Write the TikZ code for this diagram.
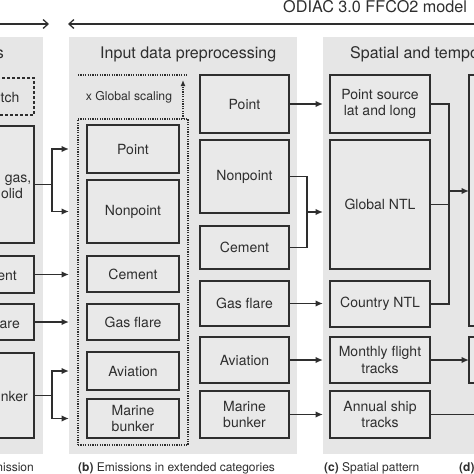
\documentclass[tikz,border=0pt]{standalone}
\usepackage{fontspec}
\setmainfont{TeX Gyre Heros}
\usepackage{xcolor}
\usepackage{tikz}
\usetikzlibrary{arrows.meta, positioning, calc}
\definecolor{panelgray}{HTML}{E6E6E6}
\definecolor{boxgray}{HTML}{E9E9E9}
\definecolor{ink}{HTML}{2E2E2E}
\tikzset{
    panel/.style={
        rectangle,
        fill=panelgray,
        draw=none,
        inner sep=0pt,
        outer sep=0pt
    },
    catbox/.style={
        rectangle,
        draw=ink,
        line width=1.9pt,
        fill=boxgray,
        align=center,
        inner sep=0pt,
        outer sep=0pt,
        text=ink,
        font=\fontsize{14}{16.5}\selectfont
    },
    dashbox/.style={
        catbox,
        line width=1.5pt,
        dash pattern=on 3pt off 2pt,
        fill=none
    },
    dotbox/.style={
        rectangle,
        draw=ink,
        line width=1.3pt,
        dash pattern=on 1.2pt off 1.2pt,
        inner sep=0pt,
        outer sep=0pt
    },
    wire/.style={
        draw=ink,
        line width=1.5pt
    },
    arr/.style={
        wire,
        -{Latex[length=7.5pt,width=6.5pt]}
    },
    dotwire/.style={
        draw=ink,
        line width=1.3pt,
        dash pattern=on 1.2pt off 1.2pt
    },
    banner/.style={
        draw=ink,
        line width=1.3pt
    },
    title/.style={
        font=\fontsize{16}{19}\selectfont,
        text=ink,
        inner sep=0pt
    },
    caption/.style={
        font=\fontsize{12}{14}\selectfont,
        text=ink,
        inner sep=0pt
    },
    cut/.style={
        font=\fontsize{14}{16.5}\selectfont,
        text=ink,
        inner sep=0pt,
        anchor=base east
    }
}

\begin{document}
\begin{tikzpicture}[x=1pt, y=-1pt]
\useasboundingbox (0,0) rectangle (474,474);

% Panels
\node[panel, minimum width=143pt, minimum height=417pt] (pa) at (-28.5,245.5) {};
\node[panel, minimum width=228pt, minimum height=417pt] (pb) at (183,245.5) {};
\node[panel, minimum width=237pt, minimum height=417pt] (pc) at (441.5,245.5) {};

% Model banner
\coordinate (banL) at (-10,24);
\coordinate (banLend) at (49,24);
\coordinate (banR) at (68,24);
\coordinate (banRend) at (490,24);
\draw[banner, -{Straight Barb[length=5pt,width=9pt]}] (banL) -- (banLend);
\draw[banner, {Straight Barb[length=5pt,width=9pt]}-] (banR) -- (banRend);
\node[title, anchor=base west, font=\fontsize{16.2}{19}\selectfont] (model) at (283,12.5) {ODIAC 3.0 FFCO2 model};

% Panel titles
\node[title, anchor=base east] (ta) at (4,58) {s};
\node[title, anchor=base west] (tb) at (100,58) {Input data preprocessing};
\node[title, anchor=base west] (tc) at (350,58) {Spatial and tempo};

% Panel (a)
\node[dashbox, minimum width=94pt, minimum height=37pt] (aTot) at (-13,96.5) {};
\node[catbox, minimum width=94pt, minimum height=117pt, below=11pt of aTot] (aBig) {};
\node[catbox, minimum width=94pt, minimum height=37pt, below=13pt of aBig] (aEnt) {};
\node[catbox, minimum width=94pt, minimum height=36pt, below=11pt of aEnt] (aFlare) {};
\node[catbox, minimum width=94pt, minimum height=85pt, below=13pt of aFlare] (aBunk) {};
\node[cut] (aTotTxt) at (19.5,102) {tch};
\node[cut] (aBigTxt) at (31.5,182) {gas,};
\node[cut] (aBigTxtB) at (23,198) {olid};
\node[cut] (aEntTxt) at (17,280) {ent};
\node[cut] (aFlareTxt) at (20,328) {are};
\node[cut] (aBunkTxt) at (28,401) {nker};

% Panel (b), extended categories
\node[catbox, minimum width=92pt, minimum height=48pt] (b1Point) at (133,149) {Point};
\node[catbox, minimum width=92pt, minimum height=63pt, below=7pt of b1Point] (b1Non) {Nonpoint};
\node[catbox, minimum width=92pt, minimum height=36pt, below=13pt of b1Non] (b1Cem) {Cement};
\node[catbox, minimum width=92pt, minimum height=36pt, below=12pt of b1Cem] (b1Flare) {Gas flare};
\node[catbox, minimum width=92pt, minimum height=38pt, below=12pt of b1Flare] (b1Avi) {Aviation};
\node[catbox, minimum width=92pt, minimum height=39pt, below=9pt of b1Avi] (b1Mar) {Marine\\bunker};
\node[dotbox, minimum width=110pt, minimum height=326pt] (b1Scope) at (133,282) {};

% Global scaling
\draw[dotwire] ([yshift=44pt]b1Scope.north west) -- ([yshift=44pt,xshift=-1pt]b1Scope.north east);
\draw[dotwire, -{Latex[length=6pt,width=5pt]}] ([xshift=-5pt]b1Scope.north east) -- ++(0,-39);
\node[text=ink, inner sep=0pt, font=\fontsize{12.2}{14}\selectfont] (scaleLbl) at (129,97) {x Global scaling};

% Panel (b), second column
\node[catbox, minimum width=89pt, minimum height=58pt] (b2Point) at (244.5,104) {Point};
\node[catbox, minimum width=89pt, minimum height=73pt, below=7pt of b2Point] (b2Non) {Nonpoint};
\node[catbox, minimum width=89pt, minimum height=43pt, below=13pt of b2Non] (b2Cem) {Cement};
\node[catbox, minimum width=89pt, minimum height=45pt, below=12pt of b2Cem] (b2Flare) {Gas flare};
\node[catbox, minimum width=89pt, minimum height=46pt, below=11pt of b2Flare] (b2Avi) {Aviation};
\node[catbox, minimum width=89pt, minimum height=47pt, below=8pt of b2Avi] (b2Mar) {Marine\\bunker};

% Panel (c)
\node[catbox, minimum width=100pt, minimum height=58pt] (cPt) at (380,104) {Point source\\lat and long};
\node[catbox, minimum width=100pt, minimum height=129pt, below=7pt of cPt] (cGlob) {Global NTL};
\node[catbox, minimum width=100pt, minimum height=46pt, below=12pt of cGlob] (cCty) {Country NTL};
\node[catbox, minimum width=100pt, minimum height=46pt, below=10pt of cCty] (cFlight) {Monthly flight\\tracks};
\node[catbox, minimum width=100pt, minimum height=47pt, below=8pt of cFlight] (cShip) {Annual ship\\tracks};

% Panel (d)
\node[catbox, minimum width=91pt, minimum height=251pt] (dBig) at (514.5,200.5) {};
\node[catbox, minimum width=91pt, minimum height=46pt, below=11pt of dBig] (dFlight) {};

% (a) to (b)
\draw[wire] (aBig.east) -- ++(18,0) coordinate (aForkTop);
\draw[arr] (aForkTop) |- (pb.west |- b1Point);
\draw[arr] (aForkTop) |- (pb.west |- b1Non);
\draw[arr] (aEnt.east) -- (aEnt.east -| pb.west);
\draw[arr] (aFlare.east) -- (aFlare.east -| pb.west);
\draw[wire] (aBunk.east) -- ++(18,0) coordinate (aForkBot);
\draw[arr] (aForkBot) |- (pb.west |- b1Avi);
\draw[arr] (aForkBot) |- (pb.west |- b1Mar);

% (b) to (c)
\draw[arr] (b2Point.east) -- (b2Point.east -| pc.west);
\draw[wire] (b2Non.east) -- ++(18,0) coordinate (bFork) |- (b2Cem.east);
\coordinate (bMid) at ($(b2Non.east)!0.5!(b2Cem.east)$);
\draw[arr] (bFork |- bMid) -- (pc.west |- bMid);
\draw[arr] (b2Flare.east) -- (b2Flare.east -| pc.west);
\draw[arr] (b2Avi.east) -- (b2Avi.east -| pc.west);
\draw[arr] (b2Mar.east) -- (b2Mar.east -| pc.west);

% (c) to (d)
\draw[wire] (cPt.east) -- ++(19,0) coordinate (cBus) |- (cCty.east);
\draw[wire] (cGlob.east) -- (cGlob.east -| cBus);
\coordinate (cOut) at (449,191);
\draw[arr] (cOut) -- (cOut -| dBig.west);
\draw[arr] (cFlight.east) -- (cFlight.east -| dFlight.west);
\coordinate (rightEdge) at (490,0);
\draw[wire] (cShip.east) -- (cShip.east -| rightEdge);

% Captions
\node[caption, anchor=base east] (capA) at (34,471.5) {mission};
\node[caption, anchor=base west] (capB) at (78,471.5) {\textbf{(b)} Emissions in extended categories};
\node[caption, anchor=base west] (capC) at (324,471.5) {\textbf{(c)} Spatial pattern};
\node[caption, anchor=base west] (capD) at (459,471.5) {\textbf{(d)}};

\end{tikzpicture}
\end{document}
